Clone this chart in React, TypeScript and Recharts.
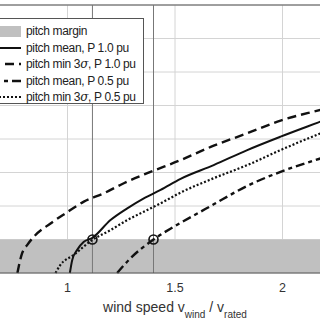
import { LineChart, Line, XAxis, YAxis, CartesianGrid, ReferenceArea, ReferenceLine, ReferenceDot } from 'recharts';

// wind speed (v_wind / v_rated) and pitch values per curve
const meanP10X = [1.011, 1.022, 1.045, 1.076, 1.116, 1.2, 1.278, 1.355, 1.433, 1.526, 1.68, 1.836, 1.991, 2.177, 2.5];
const meanP10Y = [0, 0.39, 0.69, 0.93, 1.05, 1.58, 1.93, 2.23, 2.48, 2.81, 3.22, 3.67, 4.07, 4.52, 5.3];

const minP10X = [0.767, 0.773, 0.789, 0.813, 0.843, 0.921, 0.99, 1.076, 1.169, 1.262, 1.371, 1.526, 1.68, 1.836, 1.991, 2.177, 2.5];
const minP10Y = [0, 0.19, 0.59, 0.84, 1.08, 1.48, 1.78, 2.13, 2.38, 2.68, 2.98, 3.37, 3.8, 4.17, 4.55, 4.87, 5.4];

const meanP05X = [1.231, 1.293, 1.4, 1.494, 1.619, 1.68, 1.836, 1.991, 2.177, 2.5];
const meanP05Y = [0, 0.44, 1.0, 1.38, 1.83, 2.05, 2.6, 3.02, 3.42, 4.1];

const minP05X = [0.944, 0.967, 1.029, 1.116, 1.2, 1.278, 1.355, 1.433, 1.526, 1.68, 1.836, 1.991, 2.177, 2.5];
const minP05Y = [0, 0.24, 0.54, 0.99, 1.28, 1.58, 1.83, 2.08, 2.4, 2.83, 3.22, 3.67, 4.17, 4.95];

// operating points where the mean curves leave the pitch margin
const crossX = [1.116, 1.4];
const marginTop = 1;

const xTicks = [1, 1.5, 2];
const yTicks = [0, 1, 2, 3, 4, 5, 6, 7, 8];

const zip = (xs: number[], ys: number[]) => xs.map((x, i) => ({ x, y: ys[i] }));

const FONT = '"Liberation Sans", Arial, sans-serif';
const INK = '#111';

const series = [
  { key: 'meanP10', data: zip(meanP10X, meanP10Y), dash: undefined, width: 2 },
  { key: 'minP10', data: zip(minP10X, minP10Y), dash: '9 5', width: 2.4 },
  { key: 'meanP05', data: zip(meanP05X, meanP05Y), dash: '9 4 4 4', width: 2.4 },
  { key: 'minP05', data: zip(minP05X, minP05Y), dash: '2 2', width: 2.2 },
];

const legendRows = [
  { label: 'pitch margin', kind: 'box' as const },
  { label: 'pitch mean, P 1.0 pu', kind: 'line' as const, dash: undefined, width: 2 },
  { label: 'pitch min 3', sigma: true, rest: ', P 1.0 pu', kind: 'line' as const, dash: '9 5', width: 2.4 },
  { label: 'pitch mean, P 0.5 pu', kind: 'line' as const, dash: '9 4 4 4', width: 2.4 },
  { label: 'pitch min 3', sigma: true, rest: ', P 0.5 pu', kind: 'line' as const, dash: '2 2', width: 2.2 },
];

function AxisTitle({ viewBox }: any) {
  const cx = viewBox.x + viewBox.width / 2;
  const y = viewBox.y + 39;
  return (
    <text x={cx} y={y} textAnchor="middle" fontFamily={FONT} fontSize={14} fill="#333">
      wind speed v
      <tspan fontSize={10} dy={6}>wind</tspan>
      <tspan dy={-6}> / v</tspan>
      <tspan fontSize={10} dy={6}>rated</tspan>
    </text>
  );
}

export default function App() {
  return (
    <div style={{ position: 'fixed', left: 0, top: 0, width: 320, height: 320, overflow: 'hidden', background: '#fff' }}>
      <div style={{ position: 'absolute', left: -40, top: 0 }}>
        <LineChart width={430} height={320} margin={{ top: 5, right: 0, bottom: 7, left: 0 }}>
          <CartesianGrid stroke="#d4d4d4" strokeWidth={1} />
          <XAxis
            type="number"
            dataKey="x"
            domain={[0.5, 2.5]}
            ticks={xTicks}
            tickSize={0}
            tickMargin={10}
            height={40}
            axisLine={{ stroke: '#555' }}
            tick={{ fontSize: 12.5, fill: '#333', fontFamily: FONT }}
            label={<AxisTitle />}
          />
          <YAxis type="number" dataKey="y" domain={[0, 8]} ticks={yTicks} hide />
          <ReferenceArea x1={0.5} x2={2.5} y1={0} y2={marginTop} fill="#c0c0c0" fillOpacity={1} stroke="none" />
          <ReferenceLine y={8} stroke="#555" />
          {crossX.map(x => (
            <ReferenceLine key={x} x={x} stroke="#777" strokeWidth={1} />
          ))}
          {series.map(s => (
            <Line
              key={s.key}
              data={s.data}
              dataKey="y"
              type="monotone"
              stroke={INK}
              strokeWidth={s.width}
              strokeDasharray={s.dash}
              dot={false}
              isAnimationActive={false}
            />
          ))}
          {crossX.map(x => (
            <ReferenceDot key={x} x={x} y={marginTop} r={4.5} fill="none" stroke={INK} strokeWidth={1.6} />
          ))}
        </LineChart>
      </div>
      <div
        style={{
          position: 'absolute',
          left: -10,
          top: 18,
          width: 152,
          height: 84,
          border: '1px solid #555',
          background: '#fff',
          fontFamily: FONT,
          fontSize: 12,
          letterSpacing: -0.35,
          color: '#222',
        }}
      >
        {legendRows.map((r, i) => (
          <div key={i} style={{ position: 'absolute', left: 0, top: 4 + i * 16.5, height: 16, display: 'flex', alignItems: 'center' }}>
            <svg width={32} height={16} style={{ display: 'block' }}>
              {r.kind === 'box' ? (
                <rect x={0} y={3} width={30} height={11} fill="#c0c0c0" />
              ) : (
                <line x1={0} y1={8} x2={30} y2={8} stroke={INK} strokeWidth={r.width} strokeDasharray={r.dash} />
              )}
            </svg>
            <span style={{ marginLeft: 3, whiteSpace: 'nowrap' }}>
              {r.label}
              {r.sigma && <i style={{ fontFamily: '"DejaVu Serif", serif' }}>σ</i>}
              {r.rest}
            </span>
          </div>
        ))}
      </div>
    </div>
  );
}
